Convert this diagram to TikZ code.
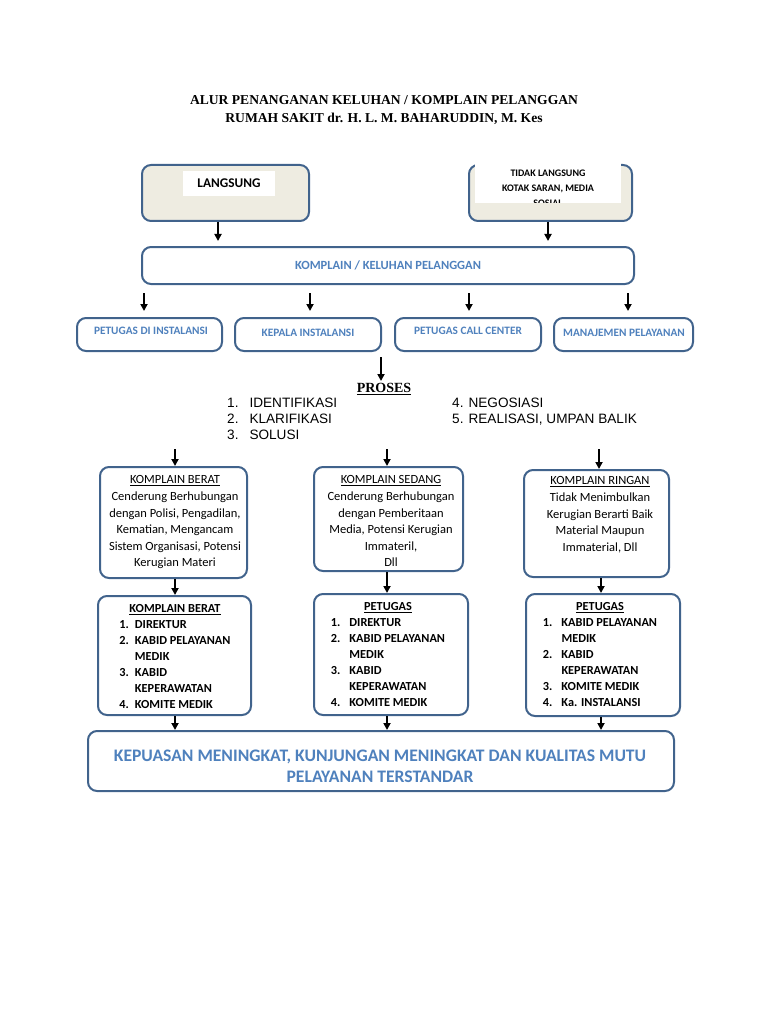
\documentclass[tikz,border=0pt]{standalone}
\usepackage{fontspec}
\setmainfont{Carlito}
\newfontfamily\tnr{Liberation Serif}
\newfontfamily\arial{Liberation Sans}
\usetikzlibrary{arrows.meta}
\definecolor{bord}{HTML}{41638C}
\definecolor{bluetxt}{HTML}{4F81BD}
\definecolor{beige}{HTML}{EEECE1}
\tikzset{
  box/.style={draw=bord, line width=2pt, rounded corners=9pt, fill=white, inner sep=0pt},
  arr/.style={-{Triangle[length=7pt,width=7pt]}, line width=1.8pt},
  bluelab/.style={text=bluetxt, font=\bfseries\fontsize{12.5}{14}\selectfont, inner sep=0pt},
  smallblue/.style={bluelab, font=\bfseries\fontsize{11.3}{13}\selectfont},
  desc/.style={font=\fontsize{12.5}{16.6}\selectfont, align=center, inner sep=0pt, anchor=north},
  lst/.style={font=\bfseries\fontsize{12.3}{16}\selectfont, inner sep=0pt, anchor=north},
}
\begin{document}
\begin{tikzpicture}[x=1pt,y=-1pt]
\useasboundingbox (0,0) rectangle (768,1024);
% title
\node[font=\tnr\bfseries\fontsize{13.6}{18}\selectfont, align=center, inner sep=0pt] (title) at (384,110)
  {ALUR PENANGANAN KELUHAN / KOMPLAIN PELANGGAN\\RUMAH SAKIT dr. H. L. M. BAHARUDDIN, M. Kes};
% top boxes
\node[box, fill=beige, minimum width=167pt, minimum height=56pt] (lang) at (225.5,193) {};
\node[fill=white, minimum width=92pt, minimum height=25pt, inner sep=0pt, font=\bfseries\fontsize{13.3}{15}\selectfont] (langT) at (229,183.5) {LANGSUNG};
\node[box, fill=beige, minimum width=163pt, minimum height=56pt] (tidak) at (550.5,193) {};
\begin{scope}
  \clip (475,158) rectangle (621,203);
  \fill[white] (475,158) rectangle (621,203);
  \node[font=\bfseries\fontsize{10}{15}\selectfont, align=center, inner sep=0pt, anchor=north] (tidakT) at (548,170)
    {TIDAK LANGSUNG\\KOTAK SARAN, MEDIA\\SOSIAL};
\end{scope}
% komplain box
\node[box, minimum width=492pt, minimum height=37pt] (kompl) at (388,265.5) {};
\node[bluelab] (komplT) at (388,265) {KOMPLAIN / KELUHAN PELANGGAN};
\draw[arr, shorten >=5pt] (lang.south -| 218,0) -- (kompl.north -| 218,0);
\draw[arr, shorten >=5pt] (tidak.south -| 548,0) -- (kompl.north -| 548,0);
% four boxes
\node[box, minimum width=145pt, minimum height=33pt] (p1) at (149.5,334.5) {};
\node[box, minimum width=146pt, minimum height=33pt] (p2) at (308,334.5) {};
\node[box, minimum width=146pt, minimum height=33pt] (p3) at (468,334.5) {};
\node[box, minimum width=139pt, minimum height=33pt] (p4) at (623.5,334.5) {};
\node[smallblue] (p1T) at (151,331) {PETUGAS DI INSTALANSI};
\node[smallblue] (p2T) at (308,333) {KEPALA INSTALANSI};
\node[smallblue] (p3T) at (468,331) {PETUGAS CALL CENTER};
\node[smallblue] (p4T) at (624,333) {MANAJEMEN PELAYANAN};
\coordinate (a1) at (144,293);
\coordinate (a2) at (310,293);
\coordinate (a3) at (469,293);
\coordinate (a4) at (628,293);
\draw[arr, shorten >=6pt] (a1) -- (a1 |- p1.north);
\draw[arr, shorten >=6pt] (a2) -- (a2 |- p2.north);
\draw[arr, shorten >=6pt] (a3) -- (a3 |- p3.north);
\draw[arr, shorten >=6pt] (a4) -- (a4 |- p4.north);
% proses
\node[font=\tnr\bfseries\fontsize{14}{16}\selectfont, inner sep=0pt] (proses) at (384,389) {\underline{PROSES}};
\coordinate (a5) at (381,357);
\draw[arr] (a5) -- (381,381);
\node[font=\arial\fontsize{13.6}{16}\selectfont, align=left, inner sep=0pt, anchor=north west] (list1) at (227,398)
  {1.\hspace{11pt}IDENTIFIKASI\\2.\hspace{11pt}KLARIFIKASI\\3.\hspace{11pt}SOLUSI};
\node[font=\arial\fontsize{13.6}{16}\selectfont, align=left, inner sep=0pt, anchor=north west] (list2) at (452,398)
  {4. NEGOSIASI\\5. REALISASI, UMPAN BALIK};
% middle boxes
\node[box, minimum width=147pt, minimum height=111pt] (b1) at (173.5,522.5) {};
\node[box, minimum width=149pt, minimum height=104pt] (b2) at (388.5,519) {};
\node[box, minimum width=145pt, minimum height=107pt] (b3) at (596.5,523.5) {};
\coordinate (c1) at (175,449);
\coordinate (c2) at (387,449);
\coordinate (c3) at (599,449);
\draw[arr] (c1) -- (c1 |- b1.north);
\draw[arr] (c2) -- (c2 |- b2.north);
\draw[arr] (c3) -- (c3 |- b3.north);
\node[desc] (b1T) at (175,475.5)
  {\underline{KOMPLAIN BERAT}\\Cenderung Berhubungan\\dengan Polisi, Pengadilan,\\Kematian, Mengancam\\Sistem Organisasi, Potensi\\Kerugian Materi};
\node[desc] (b2T) at (391,475.5)
  {\underline{KOMPLAIN SEDANG}\\Cenderung Berhubungan\\dengan Pemberitaan\\Media, Potensi Kerugian\\Immateril,\\Dll};
\node[desc] (b3T) at (600,476.5)
  {\underline{KOMPLAIN RINGAN}\\Tidak Menimbulkan\\Kerugian Berarti Baik\\Material Maupun\\Immaterial, Dll};
% lower boxes
\node[box, minimum width=153pt, minimum height=119pt] (d1) at (174.5,655.5) {};
\node[box, minimum width=154pt, minimum height=121pt] (d2) at (391,654.5) {};
\node[box, minimum width=154pt, minimum height=122pt] (d3) at (603,655) {};
\draw[arr] (b1.south -| 175,0) -- (d1.north -| 175,0);
\draw[arr] (b2.south -| 387,0) -- (d2.north -| 387,0);
\draw[arr] (b3.south -| 601,0) -- (d3.north -| 601,0);
\node[lst] (d1T) at (175,601.5)
  {\begin{tabular}{@{}r@{\hspace{6pt}}l@{}}
   \multicolumn{2}{c}{\underline{KOMPLAIN BERAT}}\\
   1. & DIREKTUR\\ 2. & KABID PELAYANAN\\ & MEDIK\\ 3. & KABID\\ & KEPERAWATAN\\ 4. & KOMITE MEDIK
   \end{tabular}};
\node[lst] (d2T) at (388,599.5)
  {\begin{tabular}{@{}r@{\hspace{9pt}}l@{}}
   \multicolumn{2}{c}{\underline{PETUGAS}}\\
   1. & DIREKTUR\\ 2. & KABID PELAYANAN\\ & MEDIK\\ 3. & KABID\\ & KEPERAWATAN\\ 4. & KOMITE MEDIK
   \end{tabular}};
\node[lst] (d3T) at (600,599.5)
  {\begin{tabular}{@{}r@{\hspace{9pt}}l@{}}
   \multicolumn{2}{c}{\underline{PETUGAS}}\\
   1. & KABID PELAYANAN\\ & MEDIK\\ 2. & KABID\\ & KEPERAWATAN\\ 3. & KOMITE MEDIK\\ 4. & Ka. INSTALANSI
   \end{tabular}};
% final box
\node[box, minimum width=586pt, minimum height=60pt] (fin) at (381,761) {};
\draw[arr] (d1.south -| 175,0) -- (fin.north -| 175,0);
\draw[arr] (d2.south -| 387,0) -- (fin.north -| 387,0);
\draw[arr] (d3.south -| 601,0) -- (fin.north -| 601,0);
\node[bluelab, font=\bfseries\fontsize{17.6}{21}\selectfont, align=center] (finT) at (380,766.5)
  {KEPUASAN MENINGKAT, KUNJUNGAN MENINGKAT DAN KUALITAS MUTU\\PELAYANAN TERSTANDAR};
\end{tikzpicture}
\end{document}
